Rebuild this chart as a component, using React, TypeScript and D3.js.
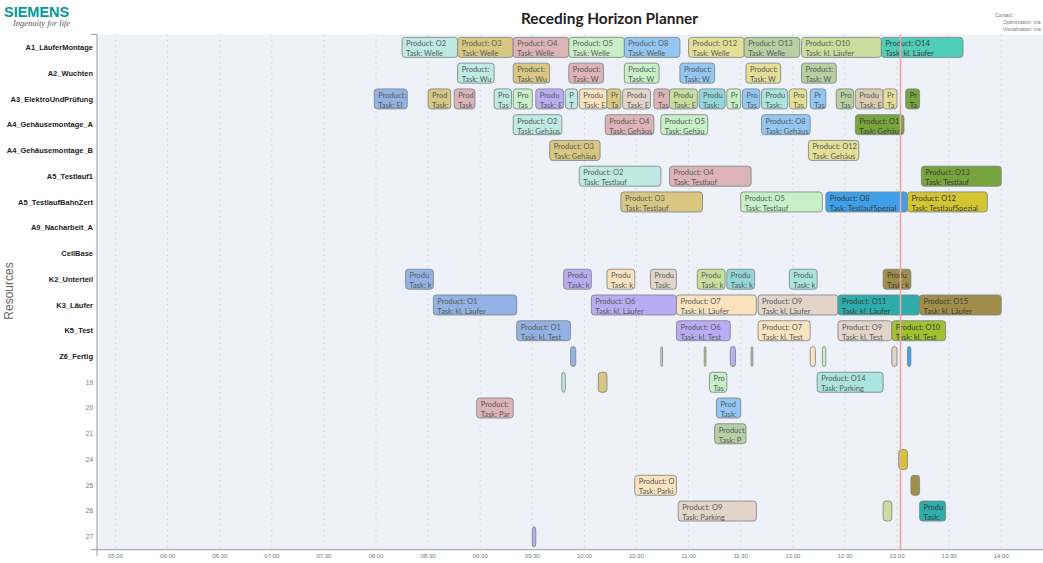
import React from "react";
import * as d3 from "d3";

const W = 1043;
const H = 563;

const resources = [
  "A1_LäuferMontage", "A2_Wuchten", "A3_ElektroUndPrüfung", "A4_Gehäusemontage_A",
  "A4_Gehäusemontage_B", "A5_Testlauf1", "A5_TestlaufBahnZert", "A9_Nacharbeit_A",
  "CellBase", "K2_Unterteil", "K3_Läufer", "K5_Test", "Z6_Fertig",
  "19", "20", "21", "24", "25", "26", "27",
];

const timeTicks = [
  "05:30", "06:00", "06:30", "07:00", "07:30", "08:00", "08:30", "09:00", "09:30",
  "10:00", "10:30", "11:00", "11:30", "12:00", "12:30", "13:00", "13:30", "14:00",
];

const timeDomain = ["05:19:20", "14:22:20"];
const currentTime = "13:02";

const products = ["O1", "O2", "O3", "O4", "O5", "O6", "O7", "O8", "O9", "O10", "O11", "O12", "O13", "O14", "O15"];

// [product, task, start, end, status]
const rowA1 = [
  ["O2", "Welle", "08:15", "08:47"],
  ["O3", "Welle", "08:47", "09:19"],
  ["O4", "Welle", "09:19", "09:51"],
  ["O5", "Welle", "09:51", "10:23"],
  ["O8", "Welle", "10:23", "10:55"],
  ["O12", "Welle", "11:00", "11:32"],
  ["O13", "Welle", "11:32", "12:04"],
  ["O10", "kl. Läufer", "12:05", "12:51"],
  ["O14", "kl. Läufer", "12:51", "13:38", "active"],
];
const rowA2 = [
  ["O2", "Wuchten", "08:47", "09:08"],
  ["O3", "Wuchten", "09:19", "09:40"],
  ["O4", "Wuchten", "09:51", "10:11"],
  ["O5", "Wuchten", "10:23", "10:43"],
  ["O8", "Wuchten", "10:55", "11:15"],
  ["O12", "Wuchten", "11:33", "11:53"],
  ["O13", "Wuchten", "12:05", "12:25"],
];
const rowA3 = [
  ["O1", "Elektro", "07:59", "08:18"],
  ["O3", "Elektro", "08:30", "08:43"],
  ["O4", "Elektro", "08:45", "08:57"],
  ["O2", "Elektro", "09:08", "09:18"],
  ["O5", "Elektro", "09:19", "09:30"],
  ["O6", "Elektro", "09:32", "09:48"],
  ["O2", "Elektro", "09:49", "09:56"],
  ["O7", "Elektro", "09:57", "10:13"],
  ["O3", "Elektro", "10:13", "10:21"],
  ["O9", "Elektro", "10:22", "10:38"],
  ["O4", "Elektro", "10:40", "10:49"],
  ["O10", "Elektro", "10:49", "11:05"],
  ["O11", "Elektro", "11:06", "11:21"],
  ["O5", "Elektro", "11:22", "11:30"],
  ["O8", "Elektro", "11:31", "11:41"],
  ["O14", "Elektro", "11:42", "11:57"],
  ["O12", "Elektro", "11:58", "12:08"],
  ["O8", "Elektro", "12:10", "12:19"],
  ["O13", "Elektro", "12:25", "12:35"],
  ["O15", "Elektro", "12:36", "12:52"],
  ["O12", "Elektro", "12:52", "13:00"],
  ["O13", "Elektro", "13:05", "13:13", "active"],
];
const rowA4A = [
  ["O2", "Gehäusemontage", "09:19", "09:47"],
  ["O4", "Gehäusemontage", "10:12", "10:40"],
  ["O5", "Gehäusemontage", "10:44", "11:11"],
  ["O8", "Gehäusemontage", "11:42", "12:10"],
  ["O13", "Gehäusemontage", "12:36", "13:04", "active"],
];
const rowA4B = [
  ["O3", "Gehäusemontage", "09:40", "10:09"],
  ["O12", "Gehäusemontage", "12:09", "12:38"],
];
const rowA5T1 = [
  ["O2", "Testlauf", "09:57", "10:44"],
  ["O4", "Testlauf", "10:49", "11:36"],
  ["O13", "Testlauf", "13:14", "14:00", "active"],
];
const rowA5BZ = [
  ["O3", "Testlauf", "10:21", "11:08"],
  ["O5", "Testlauf", "11:30", "12:17"],
  ["O8", "TestlaufSpezial", "12:19", "13:06", "active"],
  ["O12", "TestlaufSpezial", "13:06", "13:52", "active"],
];
const rowK2 = [
  ["O1", "kl. Unterteil", "08:17", "08:33"],
  ["O6", "kl. Unterteil", "09:48", "10:04"],
  ["O7", "kl. Unterteil", "10:13", "10:29"],
  ["O9", "kl. Unterteil", "10:38", "10:53"],
  ["O10", "kl. Unterteil", "11:05", "11:21"],
  ["O11", "kl. Unterteil", "11:22", "11:38"],
  ["O14", "kl. Unterteil", "11:58", "12:14"],
  ["O15", "kl. Unterteil", "12:52", "13:08", "active"],
];
const rowK3 = [
  ["O1", "kl. Läufer", "08:33", "09:21"],
  ["O6", "kl. Läufer", "10:04", "10:53"],
  ["O7", "kl. Läufer", "10:53", "11:39"],
  ["O9", "kl. Läufer", "11:40", "12:26"],
  ["O11", "kl. Läufer", "12:26", "13:13", "active"],
  ["O15", "kl. Läufer", "13:13", "14:00", "active"],
];
const rowK5 = [
  ["O1", "kl. Test", "09:21", "09:52"],
  ["O6", "kl. Test", "10:53", "11:24"],
  ["O7", "kl. Test", "11:40", "12:10"],
  ["O9", "kl. Test", "12:26", "12:57"],
  ["O10", "kl. Test", "12:57", "13:28", "active"],
];
const rowZ6 = [
  ["O1", "Fertig", "09:52", "09:55"],
  ["O2", "Fertig", "10:44", "10:45"],
  ["O3", "Fertig", "11:09", "11:10"],
  ["O6", "Fertig", "11:24", "11:27"],
  ["O4", "Fertig", "11:36", "11:37"],
  ["O7", "Fertig", "12:10", "12:13"],
  ["O5", "Fertig", "12:17", "12:19"],
  ["O9", "Fertig", "12:57", "13:00"],
  ["O8", "Fertig", "13:06", "13:08", "active"],
];
const row19 = [
  ["O2", "Parking", "09:47", "09:49"],
  ["O3", "Parking", "10:08", "10:13"],
  ["O5", "Parking", "11:12", "11:22"],
  ["O14", "Parking", "12:14", "12:52"],
];
const row20 = [
  ["O4", "Parking", "08:58", "09:19"],
  ["O8", "Parking", "11:16", "11:30"],
];
const row21 = [["O13", "Parking", "11:15", "11:33"]];
const row24 = [["O12", "Parking", "13:01", "13:06", "active"]];
const row25 = [
  ["O7", "Parking", "10:29", "10:53"],
  ["O15", "Parking", "13:08", "13:13", "active"],
];
const row26 = [
  ["O9", "Parking", "10:54", "11:39"],
  ["O10", "Parking", "12:52", "12:57"],
  ["O11", "Parking", "13:13", "13:28", "active"],
];
const row27 = [["O6", "Parking", "09:30", "09:32"]];

const rowsByResource: Record<string, string[][]> = {
  "A1_LäuferMontage": rowA1,
  "A2_Wuchten": rowA2,
  "A3_ElektroUndPrüfung": rowA3,
  "A4_Gehäusemontage_A": rowA4A,
  "A4_Gehäusemontage_B": rowA4B,
  "A5_Testlauf1": rowA5T1,
  "A5_TestlaufBahnZert": rowA5BZ,
  "K2_Unterteil": rowK2,
  "K3_Läufer": rowK3,
  "K5_Test": rowK5,
  "Z6_Fertig": rowZ6,
  "19": row19,
  "20": row20,
  "21": row21,
  "24": row24,
  "25": row25,
  "26": row26,
  "27": row27,
};

// styles
const lightPalette = [
  "#93b1e2", "#c0e9e3", "#d9c781", "#ddb3b6", "#c9efc6", "#bbabf2", "#fbe2bf", "#93c6f0",
  "#e2d4c8", "#c9de9c", "#93d6d9", "#e5df96", "#b9cfa2", "#aae4dd", "#d9cbb3",
];
const darkPalette = [
  "#6f94d6", "#8fd6cc", "#c9b25a", "#c98e93", "#9ee09a", "#9a86ea", "#f6c98c", "#3ea0ea",
  "#c9b49f", "#9dc22e", "#2cacaa", "#d4c530", "#77a43d", "#4fcdb9", "#a18d4a",
];

const BAR_FONT = "Lato, 'Open Sans', sans-serif";
const BAR_FONT_SIZE = 7.5;

const parseT = (s: string) => {
  const [h, m, sec] = s.split(":").map(Number);
  return new Date(2020, 0, 1, h, m, sec || 0);
};

let measureCtx: CanvasRenderingContext2D | null = null;
function fitText(s: string, maxW: number): string {
  if (maxW <= 0) return "";
  if (!measureCtx) {
    const c = document.createElement("canvas");
    measureCtx = c.getContext("2d");
  }
  if (!measureCtx) return s;
  measureCtx.font = `${BAR_FONT_SIZE}px Lato`;
  if (measureCtx.measureText(s).width <= maxW) return s;
  for (let n = s.length - 1; n > 0; n--) {
    const sub = s.slice(0, n);
    if (measureCtx.measureText(sub).width <= maxW) return sub;
  }
  return "";
}

export default function App() {
  const plotLeft = 97;
  const plotRight = 1040;
  const plotTop = 34.5;
  const plotBottom = 549.7;

  const x = d3.scaleTime().domain(timeDomain.map(parseT)).range([plotLeft, plotRight]);
  const y = d3.scaleBand<string>().domain(resources).range([plotTop, plotBottom]).padding(0);
  const lightColor = d3.scaleOrdinal<string, string>().domain(products).range(lightPalette);
  const darkColor = d3.scaleOrdinal<string, string>().domain(products).range(darkPalette);
  const fmt = d3.timeFormat("%H:%M");

  const barH = 20;
  const tasks = resources.flatMap((r) =>
    (rowsByResource[r] || []).map((t) => ({
      resource: r,
      product: t[0],
      task: t[1],
      start: parseT(t[2]),
      end: parseT(t[3]),
      active: t[4] === "active",
    }))
  );

  const tickVals = timeTicks.map(parseT);

  return (
    <svg
      width={W}
      height={H}
      style={{ position: "absolute", left: 0, top: 0, background: "#ffffff" }}
      xmlns="http://www.w3.org/2000/svg"
    >
      <defs>
        {tasks.map((t, i) => {
          const x0 = x(t.start);
          const x1 = x(t.end);
          const yc = (y(t.resource) as number) + y.bandwidth() / 2;
          return (
            <clipPath id={`clip-${i}`} key={i}>
              <rect x={x0} y={yc - barH / 2} width={Math.max(0, x1 - x0)} height={barH} />
            </clipPath>
          );
        })}
      </defs>

      {/* plot background */}
      <rect x={plotLeft} y={plotTop} width={plotRight - plotLeft + 3} height={plotBottom - plotTop} fill="#eef2f8" />

      {/* grid */}
      {tickVals.map((d, i) => (
        <line
          key={i}
          x1={x(d)}
          x2={x(d)}
          y1={plotTop}
          y2={plotBottom}
          stroke="#cdd3db"
          strokeWidth={1}
          strokeDasharray="1.5,4"
        />
      ))}

      {/* bars */}
      {tasks.map((t, i) => {
        const x0 = x(t.start);
        const x1 = x(t.end);
        const bw = Math.max(0, x1 - x0);
        const yc = (y(t.resource) as number) + y.bandwidth() / 2;
        const top = yc - barH / 2;
        const fill = t.active ? darkColor(t.product) : lightColor(t.product);
        const line1 = fitText(`Product: ${t.product}`, bw - 5);
        const line2 = fitText(`Task: ${t.task}`, bw - 5);
        const txtFill = t.active ? "#3c4038" : "#545c5c";
        return (
          <g key={i}>
            <rect
              x={x0}
              y={top}
              width={bw}
              height={barH}
              rx={3}
              ry={3}
              fill={fill}
              stroke="#7b8788"
              strokeOpacity={0.85}
              strokeWidth={1}
            />
            <g clipPath={`url(#clip-${i})`}>
              {line1 && (
                <text x={x0 + 4} y={top + 9} fontFamily={BAR_FONT} fontSize={BAR_FONT_SIZE} fill={txtFill}>
                  {line1}
                </text>
              )}
              {line2 && (
                <text x={x0 + 4} y={top + 19} fontFamily={BAR_FONT} fontSize={BAR_FONT_SIZE} fill={txtFill}>
                  {line2}
                </text>
              )}
            </g>
          </g>
        );
      })}

      {/* current time line */}
      <line
        x1={x(parseT(currentTime))}
        x2={x(parseT(currentTime))}
        y1={plotTop}
        y2={plotBottom}
        stroke="#f0a3a3"
        strokeWidth={1.6}
      />

      {/* left axis */}
      <path
        d={`M${plotLeft - 6},${plotTop}H${plotLeft}V${plotBottom}H${plotLeft - 6}`}
        fill="none"
        stroke="#9a9a9a"
        strokeWidth={1}
      />
      {resources.map((r) => {
        const numeric = /^\d+$/.test(r);
        return (
          <text
            key={r}
            x={plotLeft - 4}
            y={(y(r) as number) + y.bandwidth() / 2}
            dy="0.35em"
            textAnchor="end"
            fontFamily="'Liberation Sans', Arial, sans-serif"
            fontSize={numeric ? 6.5 : 7.5}
            fontWeight={numeric ? "normal" : "bold"}
            fill={numeric ? "#777" : "#222"}
          >
            {r}
          </text>
        );
      })}

      {/* bottom axis */}
      <path
        d={`M${plotLeft},${plotBottom + 6}V${plotBottom}H${plotRight + 3}`}
        fill="none"
        stroke="#9a9a9a"
        strokeWidth={1}
      />
      {tickVals.map((d, i) => (
        <text
          key={i}
          x={x(d)}
          y={plotBottom + 6}
          dy="0.35em"
          textAnchor="middle"
          fontFamily="'Liberation Sans', Arial, sans-serif"
          fontSize={6}
          fill="#777"
        >
          {fmt(d)}
        </text>
      ))}

      {/* axis title */}
      <text
        transform={`translate(13,291) rotate(-90)`}
        textAnchor="middle"
        fontFamily="'Liberation Sans', Arial, sans-serif"
        fontSize={12}
        fill="#666"
      >
        Resources
      </text>

      {/* title */}
      <text
        x={609.5}
        y={24}
        textAnchor="middle"
        fontFamily={BAR_FONT}
        fontWeight="bold"
        fontSize={15.4}
        fill="#222"
      >
        Receding Horizon Planner
      </text>

      {/* logo */}
      <text x={4} y={17} fontFamily="'Liberation Sans', Arial, sans-serif" fontWeight="bold" fontSize={14.5} fill="#009999">
        SIEMENS
      </text>
      <text x={13} y={26} fontFamily="'Liberation Serif', serif" fontStyle="italic" fontSize={8.5} fill="#555">
        Ingenuity for life
      </text>

      {/* contact */}
      <g fontFamily="'Liberation Sans', Arial, sans-serif" fontSize={5} fill="#777">
        <text x={995} y={17}>Contact:</text>
        <text x={1003} y={24}>Optimization: ma</text>
        <text x={1003} y={31}>Visualization: ma</text>
      </g>
    </svg>
  );
}
